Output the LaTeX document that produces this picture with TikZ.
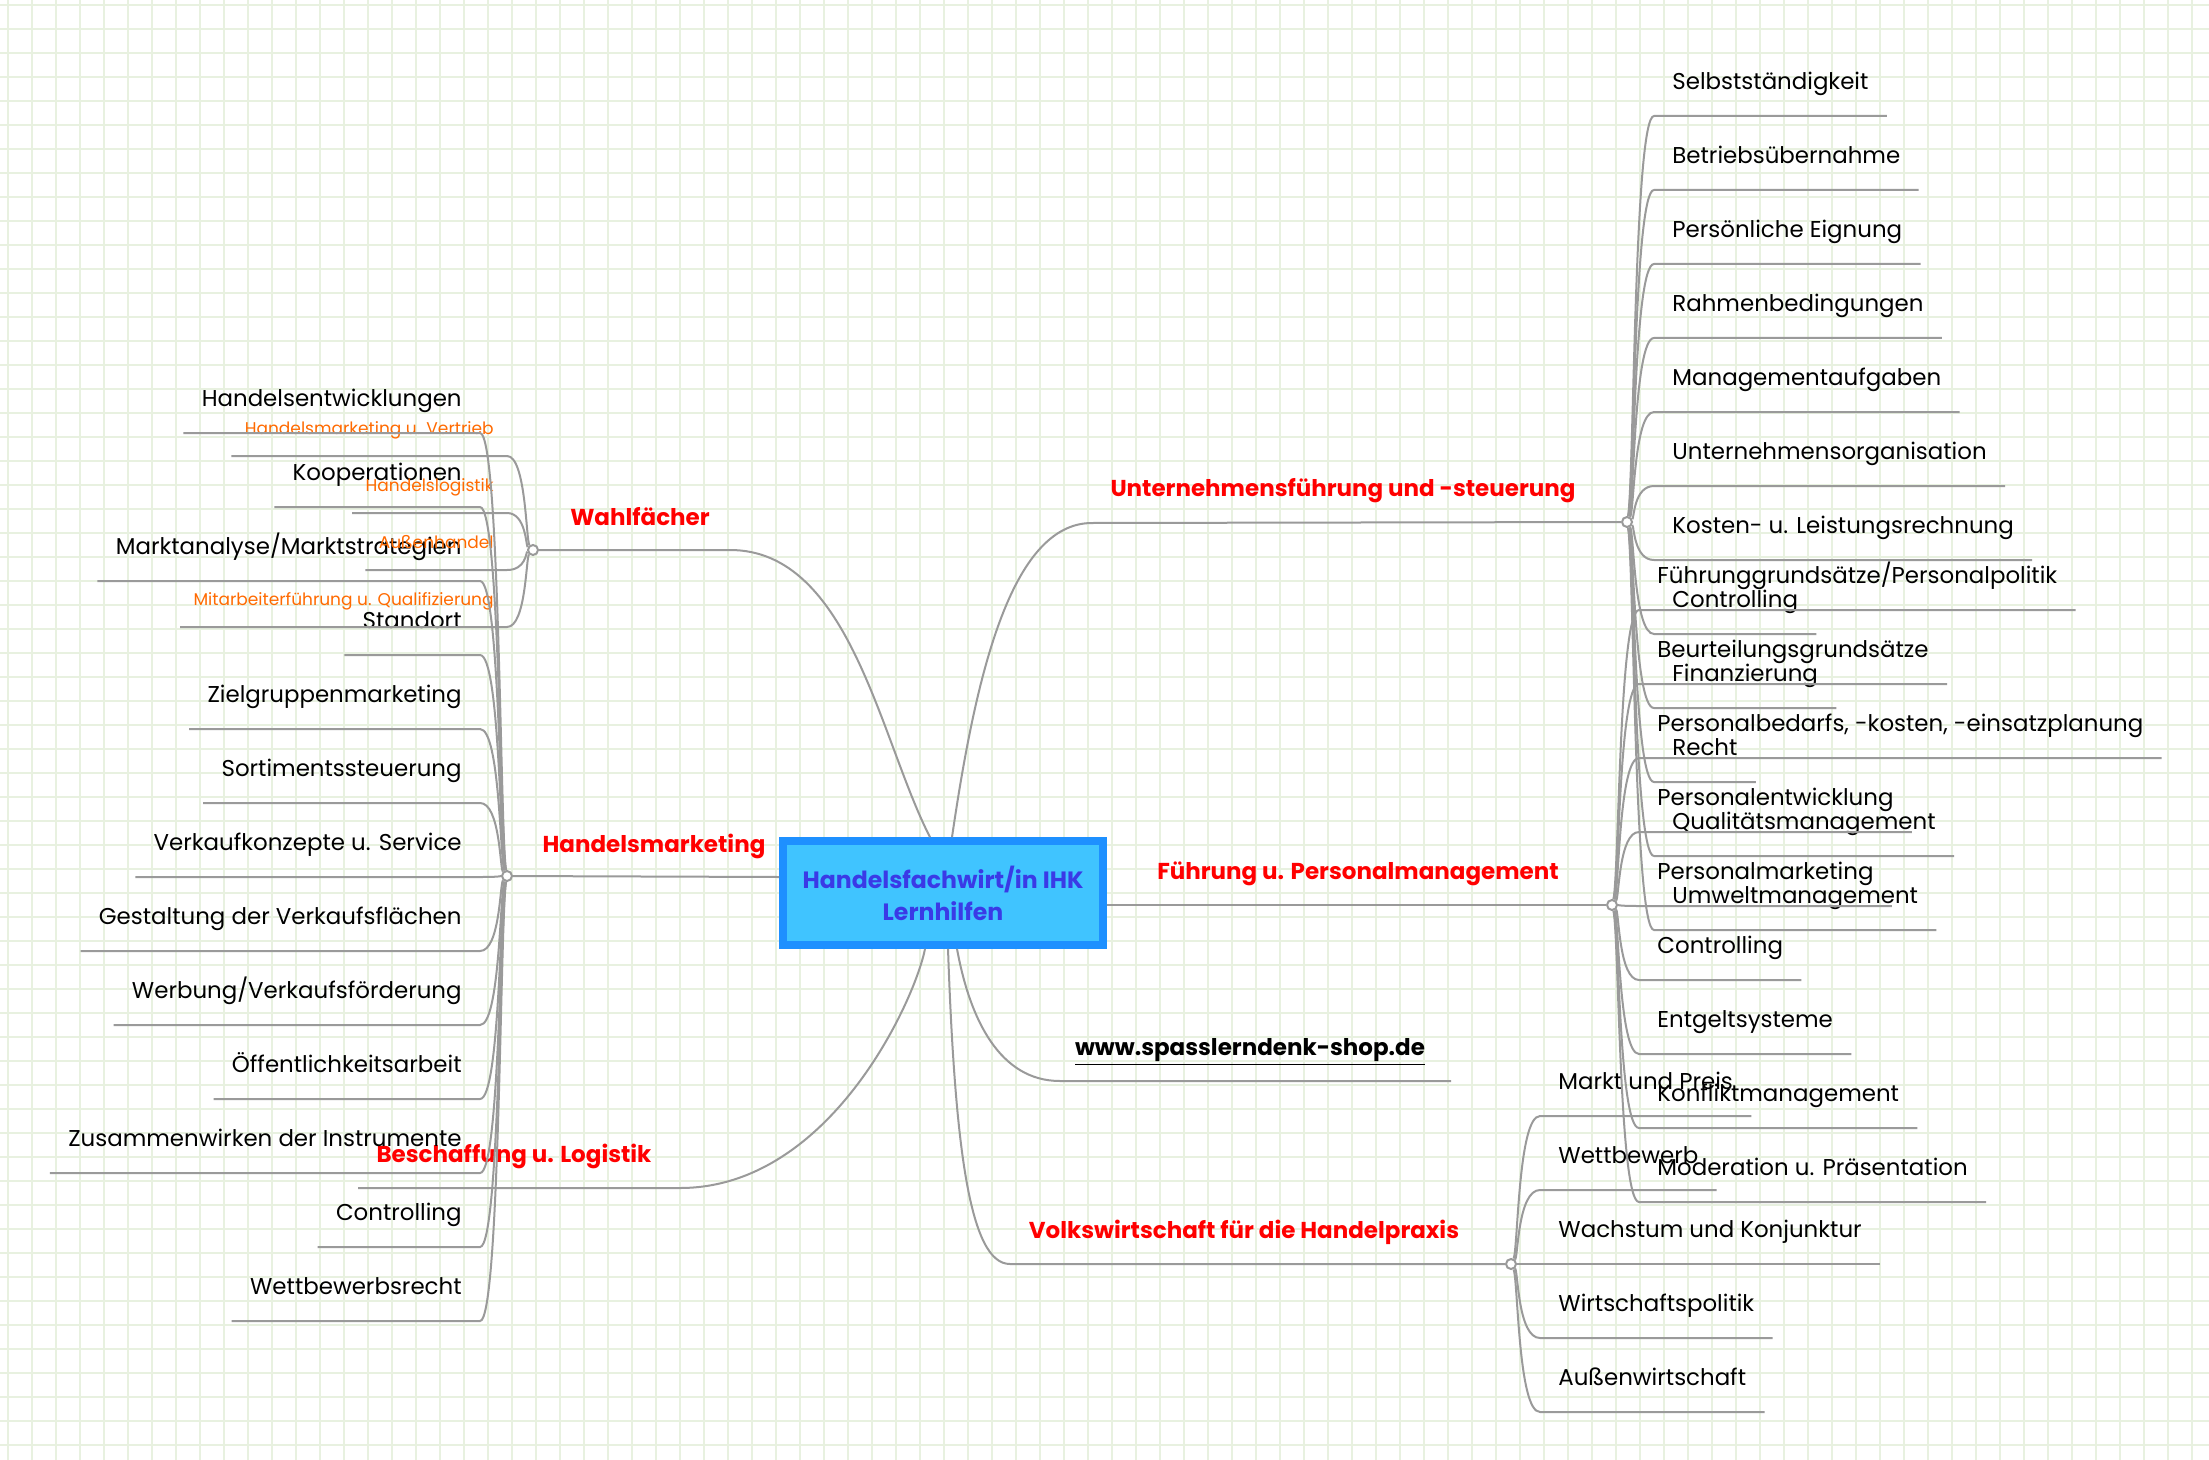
\documentclass[tikz,border=0pt]{standalone}
\usepackage{fontspec}
\setmainfont{Poppins}
\usetikzlibrary{calc}
\definecolor{Grid}{HTML}{E8F1E0}
\definecolor{Twig}{HTML}{9A9A9A}
\definecolor{HubFill}{HTML}{40C4FF}
\definecolor{HubLine}{HTML}{1E90FF}
\definecolor{HubText}{HTML}{3A3AE6}
\definecolor{Topic}{HTML}{FF0000}
\definecolor{Elective}{HTML}{FF6A00}
\tikzset{
 gridline/.style={draw=Grid, line width=0.55pt},
 hub/.style={draw=HubLine, line width=3.85pt, fill=HubFill, minimum width=160pt, minimum height=52pt, align=center, text=HubText, font=\fontsize{11.8}{16}\selectfont\bfseries},
 topic/.style={anchor=base, inner sep=0pt, text=Topic, font=\fontsize{11.5}{14}\selectfont\bfseries},
 knot/.style={circle, draw=Twig, line width=1pt, fill=white, minimum size=5pt, inner sep=0pt},
 leaf/.style={inner xsep=9pt, inner ysep=0pt, text depth=13pt, font=\fontsize{11.45}{14}\selectfont},
 rleaf/.style={leaf, anchor=south west},
 lleaf/.style={leaf, anchor=south east},
 option/.style={inner xsep=6.5pt, inner ysep=0pt, text depth=10.5pt, anchor=south east, text=Elective, font=\fontsize{8.5}{11}\selectfont},
 branch/.style={draw=Twig, line width=1pt},
 rtwig/.style={to path={.. controls ($(\tikztostart)!0.1!(\tikztostart |- \tikztotarget)+(7,0)$) and ($(\tikztostart |- \tikztotarget)+(7,0)$) .. (\tikztotarget)}},
 ltwig/.style={to path={.. controls ($(\tikztostart)!0.1!(\tikztostart |- \tikztotarget)+(-7,0)$) and ($(\tikztostart |- \tikztotarget)+(-7,0)$) .. (\tikztotarget)}}
}
\begin{document}
\begin{tikzpicture}[x=0.5pt, y={(0pt,-0.5pt)}]
\useasboundingbox (0,0) rectangle (2209,1460);
\fill[white] (0,0) rectangle (2209,1460);
% squared paper
\foreach \gx in {8,32,...,2208} \draw[gridline] (\gx,0) -- (\gx,1460);
\foreach \gy in {5,29,...,1460} \draw[gridline] (0,\gy) -- (2209,\gy);

\node[hub] (hub) at (943,893) {Handelsfachwirt/in IHK\\Lernhilfen};

% main topics
\node[topic] (uflabel) at (1343,496) {Unternehmensführung und -steuerung};
\node[topic] (fplabel) at (1358,879) {Führung u. Personalmanagement};
\node[topic] (vwlabel) at (1244,1238) {Volkswirtschaft für die Handelpraxis};
\node[topic] (wflabel) at (640,525) {Wahlfächer};
\node[topic] (hmlabel) at (654,852) {Handelsmarketing};
\node[topic] (bslabel) at (514,1162) {Beschaffung u. Logistik};
\node[topic, text=black] (wwwlabel) at (1250,1055) {\underline{www.spasslerndenk-shop.de}};

\node[knot] (ufdot) at (1627,522) {};
\node[knot] (fpdot) at (1612,905) {};
\node[knot] (vwdot) at (1511,1264) {};
\node[knot] (wfdot) at (533,550) {};
\node[knot] (hmdot) at (507,876) {};
\coordinate (wwwend) at (1451,1081);
\coordinate (bsend) at (358,1188);

% Unternehmensfuehrung
\node[rleaf] (selbst) at (1654,116) {Selbstständigkeit};
\node[rleaf] (betrieb) at (1654,190) {Betriebsübernahme};
\node[rleaf] (eignung) at (1654,264) {Persönliche Eignung};
\node[rleaf] (rahmen) at (1654,338) {Rahmenbedingungen};
\node[rleaf] (mgmt) at (1654,412) {Managementaufgaben};
\node[rleaf] (orga) at (1654,486) {Unternehmensorganisation};
\node[rleaf] (kosten) at (1654,560) {Kosten- u. Leistungsrechnung};
\node[rleaf] (ucontrol) at (1654,634) {Controlling};
\node[rleaf] (finanz) at (1654,708) {Finanzierung};
\node[rleaf] (recht) at (1654,782) {Recht};
\node[rleaf] (quali) at (1654,856) {Qualitätsmanagement};
\node[rleaf] (umwelt) at (1654,930) {Umweltmanagement};

% Fuehrung
\node[rleaf] (fgrund) at (1639,610) {Führunggrundsätze/Personalpolitik};
\node[rleaf] (beurteil) at (1639,684) {Beurteilungsgrundsätze};
\node[rleaf] (bedarf) at (1639,758) {Personalbedarfs, -kosten, -einsatzplanung};
\node[rleaf] (entw) at (1639,832) {Personalentwicklung};
\node[rleaf] (pmarket) at (1639,906) {Personalmarketing};
\node[rleaf] (fcontrol) at (1639,980) {Controlling};
\node[rleaf] (entgelt) at (1639,1054) {Entgeltsysteme};
\node[rleaf] (konflikt) at (1639,1128) {Konfliktmanagement};
\node[rleaf] (moder) at (1639,1202) {Moderation u. Präsentation};

% Volkswirtschaft
\node[rleaf] (markt) at (1540,1116) {Markt und Preis};
\node[rleaf] (wettb) at (1540,1190) {Wettbewerb};
\node[rleaf] (wachs) at (1540,1264) {Wachstum und Konjunktur};
\node[rleaf] (wpol) at (1540,1338) {Wirtschaftspolitik};
\node[rleaf] (aussen) at (1540,1412) {Außenwirtschaft};

% Handelsmarketing
\node[lleaf] (hentw) at (480,433) {Handelsentwicklungen};
\node[lleaf] (koop) at (480,507) {Kooperationen};
\node[lleaf] (marktan) at (480,581) {Marktanalyse/Marktstrategien};
\node[lleaf] (standort) at (480,655) {Standort};
\node[lleaf] (zielgr) at (480,729) {Zielgruppenmarketing};
\node[lleaf] (sortiment) at (480,803) {Sortimentssteuerung};
\node[lleaf] (verkauf) at (480,877) {Verkaufkonzepte u. Service};
\node[lleaf] (gestalt) at (480,951) {Gestaltung der Verkaufsflächen};
\node[lleaf] (werbung) at (480,1025) {Werbung/Verkaufsförderung};
\node[lleaf] (oeffentl) at (480,1099) {Öffentlichkeitsarbeit};
\node[lleaf] (zusammen) at (480,1173) {Zusammenwirken der Instrumente};
\node[lleaf] (hcontrol) at (480,1247) {Controlling};
\node[lleaf] (wbrecht) at (480,1321) {Wettbewerbsrecht};

% Wahlfaecher
\node[option] (hmv) at (507,456) {Handelsmarketing u. Vertrieb};
\node[option] (hlog) at (507,513) {Handelslogistik};
\node[option] (ahandel) at (507,570) {Außenhandel};
\node[option] (mitarb) at (507,627) {Mitarbeiterführung u. Qualifizierung};

% main branches
\draw[branch] ([xshift=-6.5pt]hub.north) .. controls (880,740) and (850,550) .. (730,550) -- (wfdot);
\draw[branch] ([xshift=4.5pt]hub.north) .. controls (975,680) and (1010,523) .. (1092,523) -- (ufdot);
\draw[branch] ([yshift=-6pt]hub.east) -- (fpdot);
\draw[branch] ([yshift=8pt]hub.west) -- (hmdot);
\draw[branch] ([xshift=7pt]hub.south) .. controls (970,1020) and (1000,1081) .. (1060,1081) -- (wwwend);
\draw[branch] ([xshift=2.5pt]hub.south) .. controls (955,1150) and (970,1264) .. (1010,1264) -- (vwdot);
\draw[branch] ([xshift=-9pt]hub.south) .. controls (915,1000) and (830,1188) .. (680,1188) -- (bsend);

% twigs
\draw[branch] (ufdot) to[rtwig] (selbst.south west) -- (selbst.south east);
\draw[branch] (ufdot) to[rtwig] (betrieb.south west) -- (betrieb.south east);
\draw[branch] (ufdot) to[rtwig] (eignung.south west) -- (eignung.south east);
\draw[branch] (ufdot) to[rtwig] (rahmen.south west) -- (rahmen.south east);
\draw[branch] (ufdot) to[rtwig] (mgmt.south west) -- (mgmt.south east);
\draw[branch] (ufdot) to[rtwig] (orga.south west) -- (orga.south east);
\draw[branch] (ufdot) to[rtwig] (kosten.south west) -- (kosten.south east);
\draw[branch] (ufdot) to[rtwig] (ucontrol.south west) -- (ucontrol.south east);
\draw[branch] (ufdot) to[rtwig] (finanz.south west) -- (finanz.south east);
\draw[branch] (ufdot) to[rtwig] (recht.south west) -- (recht.south east);
\draw[branch] (ufdot) to[rtwig] (quali.south west) -- (quali.south east);
\draw[branch] (ufdot) to[rtwig] (umwelt.south west) -- (umwelt.south east);

\draw[branch] (fpdot) to[rtwig] (fgrund.south west) -- (fgrund.south east);
\draw[branch] (fpdot) to[rtwig] (beurteil.south west) -- (beurteil.south east);
\draw[branch] (fpdot) to[rtwig] (bedarf.south west) -- (bedarf.south east);
\draw[branch] (fpdot) to[rtwig] (entw.south west) -- (entw.south east);
\draw[branch] (fpdot) to[rtwig] (pmarket.south west) -- (pmarket.south east);
\draw[branch] (fpdot) to[rtwig] (fcontrol.south west) -- (fcontrol.south east);
\draw[branch] (fpdot) to[rtwig] (entgelt.south west) -- (entgelt.south east);
\draw[branch] (fpdot) to[rtwig] (konflikt.south west) -- (konflikt.south east);
\draw[branch] (fpdot) to[rtwig] (moder.south west) -- (moder.south east);

\draw[branch] (vwdot) to[rtwig] (markt.south west) -- (markt.south east);
\draw[branch] (vwdot) to[rtwig] (wettb.south west) -- (wettb.south east);
\draw[branch] (vwdot) to[rtwig] (wachs.south west) -- (wachs.south east);
\draw[branch] (vwdot) to[rtwig] (wpol.south west) -- (wpol.south east);
\draw[branch] (vwdot) to[rtwig] (aussen.south west) -- (aussen.south east);

\draw[branch] (hmdot) to[ltwig] (hentw.south east) -- (hentw.south west);
\draw[branch] (hmdot) to[ltwig] (koop.south east) -- (koop.south west);
\draw[branch] (hmdot) to[ltwig] (marktan.south east) -- (marktan.south west);
\draw[branch] (hmdot) to[ltwig] (standort.south east) -- (standort.south west);
\draw[branch] (hmdot) to[ltwig] (zielgr.south east) -- (zielgr.south west);
\draw[branch] (hmdot) to[ltwig] (sortiment.south east) -- (sortiment.south west);
\draw[branch] (hmdot) to[ltwig] (verkauf.south east) -- (verkauf.south west);
\draw[branch] (hmdot) to[ltwig] (gestalt.south east) -- (gestalt.south west);
\draw[branch] (hmdot) to[ltwig] (werbung.south east) -- (werbung.south west);
\draw[branch] (hmdot) to[ltwig] (oeffentl.south east) -- (oeffentl.south west);
\draw[branch] (hmdot) to[ltwig] (zusammen.south east) -- (zusammen.south west);
\draw[branch] (hmdot) to[ltwig] (hcontrol.south east) -- (hcontrol.south west);
\draw[branch] (hmdot) to[ltwig] (wbrecht.south east) -- (wbrecht.south west);

\draw[branch] (wfdot) to[ltwig] (hmv.south east) -- (hmv.south west);
\draw[branch] (wfdot) to[ltwig] (hlog.south east) -- (hlog.south west);
\draw[branch] (wfdot) to[ltwig] (ahandel.south east) -- (ahandel.south west);
\draw[branch] (wfdot) to[ltwig] (mitarb.south east) -- (mitarb.south west);
\end{tikzpicture}
\end{document}
